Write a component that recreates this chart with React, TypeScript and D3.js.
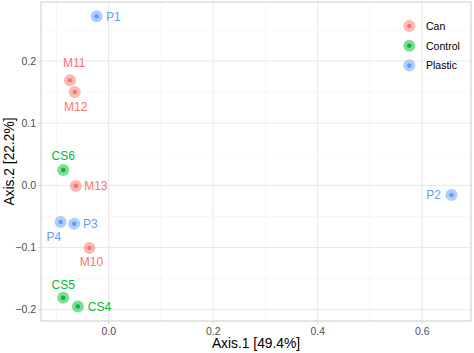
import React from "react";
import * as d3 from "d3";

const W = 474;
const H = 353;

const sampleNames = ["P1", "M11", "M12", "CS6", "M13", "P4", "P3", "M10", "CS5", "CS4", "P2"];
const groups = ["Plastic", "Can", "Can", "Control", "Can", "Plastic", "Plastic", "Can", "Control", "Control", "Plastic"];
const axis1 = [-0.023, -0.074, -0.065, -0.087, -0.063, -0.092, -0.066, -0.037, -0.087, -0.059, 0.656];
const axis2 = [0.272, 0.169, 0.150, 0.0245, -0.001, -0.059, -0.062, -0.101, -0.181, -0.195, -0.0156];
// label offsets in data units (dx along axis1, dy along axis2)
const labelDx = [0.018, 0.008, 0.002, 0.0, 0.016, -0.013, 0.017, 0.004, 0.0, 0.019, -0.02];
const labelDy = [0.0, 0.029, -0.024, 0.023, 0.0, -0.024, 0.001, -0.022, 0.022, 0.0, 0.0];
const labelAnchor = ["start", "middle", "middle", "middle", "start", "middle", "start", "middle", "middle", "start", "end"];

const legendGroups = ["Can", "Control", "Plastic"];
const groupColors = ["#F8766D", "#00BA38", "#619CFF"];

const xMajor = [0.0, 0.2, 0.4, 0.6];
const xMinor = [-0.1, 0.1, 0.3, 0.5];
const yMajor = [-0.2, -0.1, 0.0, 0.1, 0.2];
const yMinor = [-0.15, -0.05, 0.05, 0.15, 0.25];

export default function App() {
  const left = 41, right = 471, top = 2, bottom = 321;
  const x = d3.scaleLinear().domain([0, 0.6]).range([108.7, 422.2]);
  const y = d3.scaleLinear().domain([0, 0.2]).range([185.3, 61]);
  const color = d3.scaleOrdinal<string, string>().domain(legendGroups).range(groupColors);
  const fmt = d3.format(".1f");

  return (
    <svg width={W} height={H} style={{ position: "absolute", left: 0, top: 0, fontFamily: "Liberation Sans, Arial, sans-serif" }}>
      <rect x={0} y={0} width={W} height={H} fill="#fff" />
      {xMinor.map((v) => (
        <line key={"xm" + v} x1={x(v)} x2={x(v)} y1={top} y2={bottom} stroke="#f2f2f2" strokeWidth={0.6} />
      ))}
      {yMinor.map((v) => (
        <line key={"ym" + v} x1={left} x2={right} y1={y(v)} y2={y(v)} stroke="#f2f2f2" strokeWidth={0.6} />
      ))}
      {xMajor.map((v) => (
        <line key={"xM" + v} x1={x(v)} x2={x(v)} y1={top} y2={bottom} stroke="#e8e8e8" strokeWidth={1} />
      ))}
      {yMajor.map((v) => (
        <line key={"yM" + v} x1={left} x2={right} y1={y(v)} y2={y(v)} stroke="#e8e8e8" strokeWidth={1} />
      ))}
      <rect x={left} y={top} width={right - left} height={bottom - top} fill="none" stroke="#d4d4d4" strokeWidth={1.2} />
      {xMajor.map((v) => (
        <g key={"xt" + v}>
          <line x1={x(v)} x2={x(v)} y1={bottom} y2={bottom + 3} stroke="#d4d4d4" />
          <text x={x(v)} y={bottom + 14} textAnchor="middle" fontSize={10.5} fill="#4d4d4d">{fmt(v)}</text>
        </g>
      ))}
      {yMajor.map((v) => (
        <g key={"yt" + v}>
          <line x1={left - 3} x2={left} y1={y(v)} y2={y(v)} stroke="#d4d4d4" />
          <text x={left - 5} y={y(v) + 3.8} textAnchor="end" fontSize={10.5} fill="#4d4d4d">{fmt(v)}</text>
        </g>
      ))}
      <text x={(left + right) / 2} y={348} textAnchor="middle" fontSize={13.8} fill="#000">Axis.1 [49.4%]</text>
      <text transform={`translate(14, ${(top + bottom) / 2}) rotate(-90)`} textAnchor="middle" fontSize={13.8} fill="#000">Axis.2 [22.2%]</text>
      {sampleNames.map((n, i) => (
        <g key={n}>
          <circle cx={x(axis1[i])} cy={y(axis2[i])} r={6} fill={color(groups[i])} fillOpacity={0.5} />
          <circle cx={x(axis1[i])} cy={y(axis2[i])} r={2.3} fill={color(groups[i])} />
        </g>
      ))}
      {sampleNames.map((n, i) => (
        <text key={"l" + n} x={x(axis1[i] + labelDx[i])} y={y(axis2[i] + labelDy[i]) + 4.4} textAnchor={labelAnchor[i]} fontSize={12} fill={color(groups[i])}>{n}</text>
      ))}
      {legendGroups.map((g, i) => (
        <g key={"lg" + g}>
          <circle cx={409.3} cy={26 + i * 19.8} r={6} fill={color(g)} fillOpacity={0.5} />
          <circle cx={409.3} cy={26 + i * 19.8} r={2.3} fill={color(g)} />
          <text x={426} y={26 + i * 19.8 + 3.8} fontSize={10.5} fill="#000">{g}</text>
        </g>
      ))}
    </svg>
  );
}
